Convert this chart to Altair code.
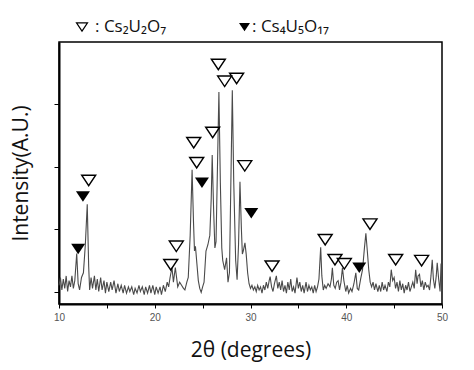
import altair as alt
import pandas as pd

# XRD pattern
two_theta = [10.0, 10.15, 10.3, 10.45, 10.6, 10.75, 10.9, 11.05, 11.2, 11.35, 11.5, 11.65, 11.85, 12.0, 12.15,
             12.35, 12.55, 12.75, 12.95, 13.1, 13.2, 13.35, 13.5, 13.7, 13.85, 14.0, 14.15, 14.35, 14.5, 14.7,
             14.85, 15.0, 15.2, 15.4, 15.55, 15.75, 15.95, 16.15, 16.3, 16.5, 16.7, 16.85, 17.05, 17.25, 17.4,
             17.6, 17.8, 17.95, 18.15, 18.35, 18.5, 18.7, 18.9, 19.05, 19.25, 19.45, 19.6, 19.8, 20.0, 20.15,
             20.35, 20.55, 20.7, 20.9, 21.1, 21.3, 21.45, 21.6, 21.8, 21.95, 22.15, 22.4, 22.6, 22.8, 23.0,
             23.15, 23.35, 23.5, 23.7, 23.9, 24.05, 24.15, 24.25, 24.4, 24.55, 24.7, 24.85, 25.0, 25.15, 25.35,
             25.55, 25.75, 25.9, 26.0, 26.15, 26.28, 26.4, 26.55, 26.7, 26.85, 27.0, 27.1, 27.3, 27.5, 27.65,
             27.8, 27.95, 28.1, 28.25, 28.45, 28.6, 28.75, 28.9, 29.05, 29.15, 29.25, 29.42, 29.55, 29.7, 29.85,
             30.0, 30.15, 30.3, 30.45, 30.6, 30.75, 30.9, 31.05, 31.2, 31.35, 31.5, 31.65, 31.8, 31.95, 32.05,
             32.2, 32.35, 32.5, 32.7, 32.85, 33.0, 33.15, 33.3, 33.45, 33.6, 33.75, 33.9, 34.05, 34.2, 34.35,
             34.5, 34.65, 34.85, 35.0, 35.15, 35.3, 35.45, 35.6, 35.8, 35.95, 36.1, 36.25, 36.4, 36.55, 36.7,
             36.85, 37.0, 37.15, 37.33, 37.45, 37.6, 37.75, 37.9, 38.1, 38.3, 38.45, 38.55, 38.7, 38.85, 39.0,
             39.15, 39.3, 39.45, 39.6, 39.75, 39.95, 40.1, 40.25, 40.45, 40.6, 40.8, 41.0, 41.15, 41.3, 41.5,
             41.7, 41.9, 42.05, 42.2, 42.35, 42.5, 42.65, 42.8, 42.95, 43.1, 43.3, 43.45, 43.6, 43.75, 43.9,
             44.05, 44.25, 44.4, 44.55, 44.7, 44.85, 45.0, 45.15, 45.3, 45.45, 45.6, 45.75, 45.9, 46.05, 46.2,
             46.35, 46.5, 46.65, 46.8, 46.95, 47.1, 47.25, 47.4, 47.5, 47.65, 47.8, 47.95, 48.1, 48.25, 48.4,
             48.55, 48.7, 48.85, 48.98, 49.1, 49.25, 49.4, 49.5, 49.65, 49.8, 49.9, 50.0]
intensity = [0.2, 0.45, 0.05, 0.4, 0.1, 0.5, 0.0, 0.35, 0.15, 0.5, 0.1, 0.35, 1.22, 0.25, 0.05,
             0.45, 0.6, 1.5, 2.8, 0.8, 0.05, 0.45, 0.1, 0.5, 0.05, 0.4, 0.0, 0.45, 0.05, 0.35,
             -0.05, 0.3, 0.0, 0.3, 0.05, 0.35, -0.05, 0.25, 0.0, 0.2, -0.05, 0.2, -0.05, 0.15, 0.0,
             0.15, -0.1, 0.1, -0.05, 0.2, 0.0, 0.15, -0.1, 0.15, -0.05, 0.2, -0.05, 0.2, -0.1, 0.15,
             -0.05, 0.15, -0.1, 0.2, 0.0, 0.3, 0.15, 0.45, 0.77, 0.3, 0.77, 0.15, 0.3, 0.2, 0.1,
             0.05, 0.3, 0.45, 1.8, 3.9, 2.2, 1.3, 1.45, 0.9, 0.35, 0.1, -0.03, 0.15, 0.3, 1.3,
             1.5, 1.8, 3.0, 4.38, 2.6, 1.4, 1.6, 4.0, 6.4, 3.5, 1.4, 1.0, 0.7, 1.08, 0.3,
             0.6, 3.5, 6.45, 3.5, 1.0, 0.38, 1.5, 3.52, 2.0, 1.2, 1.3, 1.56, 1.2, 0.6, 0.25,
             0.1, 0.2, 0.05, 0.15, 0.0, 0.2, 0.05, 0.15, -0.05, 0.2, 0.05, 0.3, 0.1, 0.35, 0.48,
             0.15, 0.0, 0.25, 0.5, 0.1, 0.3, 0.05, 0.35, 0.0, 0.2, -0.05, 0.3, 0.05, 0.4, 0.0,
             0.15, -0.05, 0.45, 0.1, 0.3, 0.0, 0.2, -0.05, 0.3, 0.0, 0.2, 0.05, 0.15, -0.05, 0.2,
             0.0, 0.15, 0.4, 1.42, 0.5, 0.05, 0.2, 0.1, 0.25, 0.15, 0.4, 0.76, 0.2, 0.1, 0.3,
             0.35, 0.05, 0.3, 0.76, 0.35, 0.0, 0.2, -0.05, 0.1, 0.0, 0.25, 0.6, 0.1, 0.05, 0.4,
             0.7, 1.4, 1.87, 1.3, 0.7, 0.3, 0.15, 0.3, 0.05, 0.25, 0.0, 0.2, 0.0, 0.3, 0.05,
             0.2, 0.0, 0.3, 0.15, 0.7, 0.35, 0.45, 0.1, 0.3, 0.0, 0.35, 0.05, 0.25, -0.05, 0.2,
             0.05, 0.3, 0.0, 0.15, 0.3, 0.1, 0.7, 0.25, 0.5, 0.55, 0.15, 0.35, 0.05, 0.3, 0.15,
             0.2, 0.05, 0.5, 1.02, 0.4, 0.1, 0.5, 0.92, 0.4, 0.0, 0.9, 0.0]

# Peak markers
open_x = [13.1, 21.67, 22.25, 24.07, 24.38, 26.05, 26.64, 27.3, 28.55, 29.4, 32.25, 37.8, 38.82, 39.8, 42.48, 45.16, 47.87]
open_y = [3.56, 0.86, 1.45, 4.77, 4.13, 5.10, 7.28, 6.74, 6.83, 4.03, 0.81, 1.66, 1.02, 0.89, 2.16, 1.02, 0.99]
solid_x = [12.0, 12.5, 24.93, 30.08, 41.36]
solid_y = [1.36, 3.05, 3.49, 2.51, 0.76]

legend_labels = [": Cs₂U₂O₇", ": Cs₄U₅O₁₇"]

x_ticks = [10, 15, 20, 25, 30, 35, 40, 45, 50]
y_ticks = [0, 1, 2, 3, 4, 5, 6, 7]

pattern = pd.DataFrame({"t": two_theta, "i": intensity})
opens = pd.DataFrame({"t": open_x, "i": open_y})
solids = pd.DataFrame({"t": solid_x, "i": solid_y})
one = pd.DataFrame({"k": [0]})

TRI = "M-1,-0.75L1,-0.75L0,0.75Z"
FONT = "Open Sans"

xs = alt.Scale(domain=[10, 50], nice=False, zero=False)
ys = alt.Scale(domain=[-0.4, 8], nice=False, zero=False)

xaxis = alt.Axis(values=x_ticks, labelExpr="datum.value % 10 === 0 ? datum.label : ''",
                 tickSize=4, tickColor="black", tickWidth=1, domainColor="black", domainWidth=2,
                 grid=False, labelFontSize=10, labelColor="#555555", labelFont="Liberation Sans",
                 labelFlush=False, labelPadding=4, title="2θ (degrees)", titleFont=FONT,
                 titleFontSize=21, titleFontWeight="normal", titleColor="#111111", titlePadding=17)
yaxis = alt.Axis(values=y_ticks, labels=False, tickSize=5, tickColor="black", tickWidth=1,
                 domainColor="black", domainWidth=2, grid=False,
                 title="Intensity(A.U.)", titleFont=FONT, titleFontSize=21,
                 titleFontWeight="normal", titleColor="#111111", titlePadding=22)

line = alt.Chart(pattern).mark_line(color="#4a4a4a", strokeWidth=1.1).encode(
    x=alt.X("t:Q", scale=xs, axis=xaxis),
    y=alt.Y("i:Q", scale=ys, axis=yaxis),
)

open_pts = alt.Chart(opens).mark_point(shape=TRI, size=196, filled=False, stroke="black",
                                       strokeWidth=1.4, opacity=1).encode(
    x=alt.X("t:Q", scale=xs), y=alt.Y("i:Q", scale=ys))

solid_pts = alt.Chart(solids).mark_point(shape=TRI, size=196, filled=True, fill="black",
                                         opacity=1).encode(
    x=alt.X("t:Q", scale=xs), y=alt.Y("i:Q", scale=ys))

leg_sym1 = alt.Chart(one).mark_point(shape=TRI, size=121, filled=False, stroke="black",
                                     strokeWidth=1.2, opacity=1).encode(
    x=alt.value(23), y=alt.value(-15))
leg_sym2 = alt.Chart(one).mark_point(shape=TRI, size=121, filled=True, fill="black",
                                     opacity=1).encode(
    x=alt.value(185.5), y=alt.value(-15))
leg_txt1 = alt.Chart(one).mark_text(text=legend_labels[0], align="left", baseline="alphabetic",
                                    font=FONT, fontSize=17, fontWeight="normal",
                                    color="#111111").encode(
    x=alt.value(36), y=alt.value(-10))
leg_txt2 = alt.Chart(one).mark_text(text=legend_labels[1], align="left", baseline="alphabetic",
                                    font=FONT, fontSize=17, fontWeight="normal",
                                    color="#111111").encode(
    x=alt.value(193), y=alt.value(-10))

chart = alt.layer(line, open_pts, solid_pts, leg_sym1, leg_sym2, leg_txt1, leg_txt2).properties(
    width=383, height=262,
    padding={"left": 59, "top": 42, "right": 32, "bottom": 66},
    autosize=alt.AutoSizeParams(type="none"),
    background="white",
).configure_view(stroke="black", strokeWidth=1.5)

chart.save("out.html", embed_options={"renderer": "svg", "actions": False})
